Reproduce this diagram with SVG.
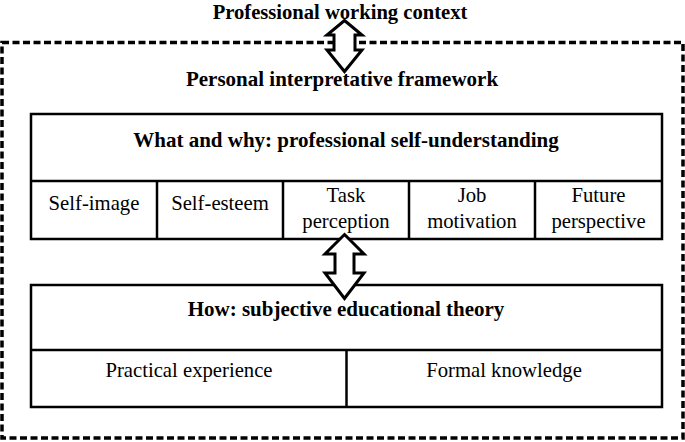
<svg xmlns="http://www.w3.org/2000/svg" width="685" height="442" viewBox="0 0 685 442">
<style>
text{font-family:"Liberation Serif","Times New Roman",serif;fill:#000;text-anchor:middle}
.b{font-weight:bold;font-size:21px}
.r{font-size:20.7px}
.box{fill:#fff;stroke:#000;stroke-width:2.5}
.ln{stroke:#000;stroke-width:2.5;fill:none}
.arr{fill:#fff;stroke:#000;stroke-width:3;stroke-linejoin:miter}
</style>
<rect width="685" height="442" fill="#fff"/>
<g id="framework">
<rect x="2" y="42.5" width="681" height="395.5" fill="none" stroke="#000" stroke-width="3.5" stroke-dasharray="7 3.5"/>
<text class="b" x="342" y="86">Personal interpretative framework</text>
</g>
<g id="context">
<text class="b" x="340" y="18.5" style="font-size:20.6px">Professional working context</text>
</g>
<g id="self-understanding">
<rect class="box" x="31" y="114" width="631" height="125"/>
<line class="ln" x1="31" y1="181" x2="662" y2="181"/>
<line class="ln" x1="157" y1="181" x2="157" y2="239"/>
<line class="ln" x1="283" y1="181" x2="283" y2="239"/>
<line class="ln" x1="409" y1="181" x2="409" y2="239"/>
<line class="ln" x1="535" y1="181" x2="535" y2="239"/>
<text class="b" x="346" y="147">What and why: professional self-understanding</text>
<text class="r" x="94" y="210">Self-image</text>
<text class="r" x="220" y="210">Self-esteem</text>
<text class="r" x="346" y="202">Task</text>
<text class="r" x="346" y="227.5">perception</text>
<text class="r" x="472" y="202">Job</text>
<text class="r" x="472" y="227.5">motivation</text>
<text class="r" x="598.5" y="202">Future</text>
<text class="r" x="598.5" y="227.5">perspective</text>
</g>
<g id="theory">
<rect class="box" x="31" y="285" width="631" height="122"/>
<line class="ln" x1="31" y1="350" x2="662" y2="350"/>
<line class="ln" x1="346.5" y1="350" x2="346.5" y2="407"/>
<text class="b" x="346" y="316">How: subjective educational theory</text>
<text class="r" x="189" y="377">Practical experience</text>
<text class="r" x="504" y="377">Formal knowledge</text>
</g>
<g id="connectors">
<polygon class="arr" points="344.5,20.5 362,35 355,35 355,50 362,50 344.5,71.5 327,50 334,50 334,35 327,35"/>
<polygon class="arr" points="344.5,234.5 364,254 354,254 354,273 364,273 344.5,298.5 325,273 335,273 335,254 325,254"/>
</g>
</svg>
